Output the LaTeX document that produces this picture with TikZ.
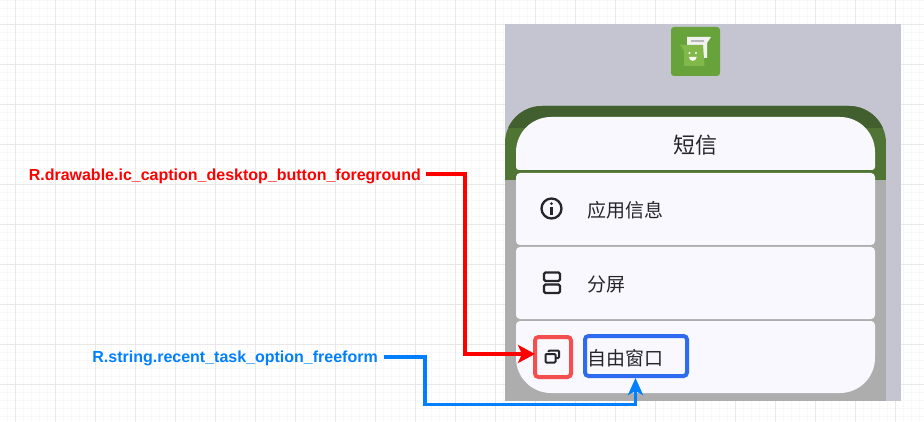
\documentclass[tikz,border=0pt]{standalone}
\usepackage{fontspec}
\setmainfont{Liberation Sans}
\newfontfamily\cjk{Noto Sans CJK SC}
\usetikzlibrary{arrows.meta}
\definecolor{shotbg}{HTML}{C5C5D2}
\definecolor{shotgray}{HTML}{ADADAD}
\definecolor{greendark}{HTML}{42602F}
\definecolor{greenmid}{HTML}{507434}
\definecolor{cardw}{HTML}{F9F8FE}
\definecolor{inkc}{HTML}{25252B}
\definecolor{gridmaj}{HTML}{E8E8E8}
\definecolor{gridmin}{HTML}{F8F8F8}
\definecolor{redbox}{HTML}{F44E4E}
\definecolor{bluebox}{HTML}{2F6BF0}
\definecolor{bluearrow}{HTML}{007FFF}
\definecolor{appgreen}{HTML}{68A23A}
\definecolor{facegreen}{HTML}{82B84A}
\tikzset{
  x=1pt,y=-1pt,
  cardtext/.style={font=\cjk\fontsize{19}{19}\selectfont,text=inkc,inner sep=0pt,anchor=west},
  apilabel/.style={font=\bfseries\fontsize{16}{16}\selectfont,inner sep=0pt,anchor=east},
  icon/.style={draw=inkc,line width=2.3pt,fill=none},
  redline/.style={draw=red,line width=3.2pt,-{Stealth[length=17pt,width=18pt,inset=4pt]}},
  blueline/.style={draw=bluearrow,line width=3.2pt,-{Stealth[length=17pt,width=15pt,inset=4pt]}},
  markbox/.style={rounded corners=3.5pt,line width=4pt,fill=none,inner sep=0pt},
}
\begin{document}
\begin{tikzpicture}
\useasboundingbox (0,0) rectangle (924,422);
\fill[white] (0,0) rectangle (924,422);
% grid
\foreach \i in {-1,...,115} {\draw[gridmin,line width=.8pt] ({15+8*\i},0) -- ({15+8*\i},422);}
\foreach \i in {-3,...,50} {\draw[gridmin,line width=.8pt] (0,{24+8*\i}) -- (924,{24+8*\i});}
\foreach \i in {0,...,23} {\draw[gridmaj,line width=.8pt] ({15+40*\i},0) -- ({15+40*\i},422);}
\foreach \i in {-1,...,10} {\draw[gridmaj,line width=.8pt] (0,{24+40*\i}) -- (924,{24+40*\i});}
% screenshot
\fill[shotbg] (505,24) rectangle (901,401);
\fill[shotgray] (505,180) rectangle (886,401);
% green card
\begin{scope}
\clip (505,180) -- (505,143) arc[start angle=180,end angle=270,radius=37] -- (849,106) arc[start angle=270,end angle=360,radius=37] -- (886,180) -- cycle;
\fill[greenmid] (505,100) rectangle (886,180);
\fill[greendark] (505,100) rectangle (886,128);
\end{scope}
% cards
\fill[cardw] (519,170) arc[start angle=90,end angle=180,radius=3] -- (516,152) arc[start angle=180,end angle=270,radius=35] -- (840,117) arc[start angle=270,end angle=360,radius=35] -- (875,167) arc[start angle=0,end angle=90,radius=3] -- cycle;
\fill[cardw,rounded corners=4pt] (516,173) rectangle (875,245);
\fill[cardw,rounded corners=4pt] (516,247) rectangle (875,319);
\fill[cardw] (520,321) -- (871,321) arc[start angle=270,end angle=360,radius=4] -- (875,358) arc[start angle=0,end angle=90,radius=35] -- (551,393) arc[start angle=90,end angle=180,radius=35] -- (516,325) arc[start angle=180,end angle=270,radius=4] -- cycle;
% app icon
\fill[appgreen,rounded corners=3pt] (671,27) rectangle (720,76);
\fill[white!90!gray] (687,37) -- (711,37) -- (707,43) -- (707,58) -- (687,58) -- cycle;
\fill[gray!55] (691,40) rectangle (704,42.5);
\fill[facegreen] (680,45) -- (703,45) -- (704.5,66) -- (684,66) -- (684,51) -- cycle;
\fill[white] (689.5,53) circle[radius=1.2];
\fill[white] (696,53) circle[radius=1.2];
\fill[white] (689,57) arc[start angle=180,end angle=0,radius=3.8] -- cycle;
% texts
\node[font=\cjk\fontsize{22}{22}\selectfont,text=inkc,inner sep=0pt] (title) at (695.5,145) {短信};
\node[cardtext] (t1) at (587,210) {应用信息};
\node[cardtext] (t2) at (587,284) {分屏};
\node[cardtext] (t3) at (587,358.5) {自由窗口};
% icons
\draw[icon] (551.5,208.5) circle[radius=10];
\fill[inkc] (551.5,203.6) circle[radius=1.5];
\fill[inkc] (550.3,206.6) rectangle (552.7,215);
\draw[icon,rounded corners=1.5pt] (544,272.5) rectangle (560,281);
\draw[icon,rounded corners=1.5pt] (544,284.5) rectangle (560,293);
\draw[inkc,line width=2pt,rounded corners=1pt] (548.5,352) -- (548.5,350.5) -- (559,350.5) -- (559,358) -- (556,358);
\fill[cardw] (545,354) rectangle (555.5,362.5);
\draw[inkc,line width=2pt,rounded corners=1pt] (545.5,354) rectangle (555.5,362.5);
% marker boxes
\node[markbox,draw=redbox,minimum width=36pt,minimum height=40pt] (redmark) at (553,357) {};
\node[markbox,draw=bluebox,minimum width=102pt,minimum height=40pt] (bluemark) at (636,356) {};
% labels
\node[apilabel,text=red] (lab1) at (421,176) {R.drawable.ic\_caption\_desktop\_button\_foreground};
\node[apilabel,text=bluearrow] (lab2) at (378,358.5) {R.string.recent\_task\_option\_freeform};
\coordinate (s1) at ([xshift=5pt,yshift=2pt]lab1.east);
\coordinate (s2) at ([xshift=6pt,yshift=1.5pt]lab2.east);
% connectors
\draw[redline] (s1) -- (465,174) -- (465,354) -- ([xshift=2pt]redmark.west |- 0,354);
\draw[blueline] (s2) -- (425,357) -- (425,404.5) -- (635.5,404.5) -- (635.5,378);
\end{tikzpicture}
\end{document}
